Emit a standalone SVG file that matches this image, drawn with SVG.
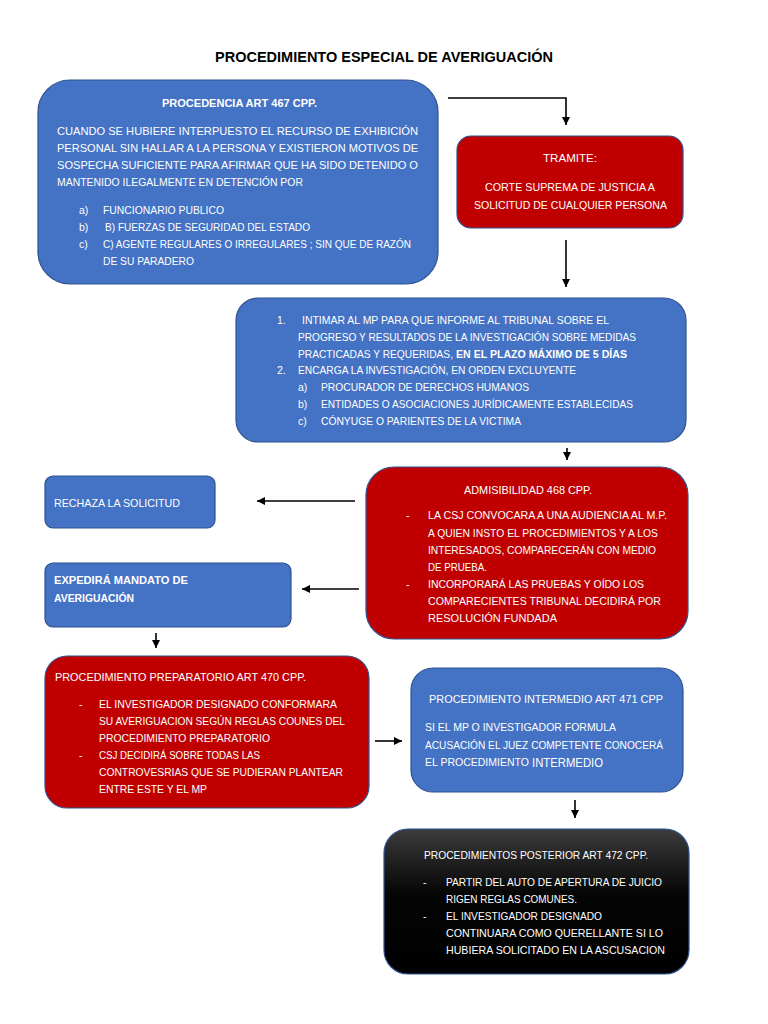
<svg xmlns="http://www.w3.org/2000/svg" width="768" height="1024" viewBox="0 0 768 1024">
<style>
.t{font-family:"Liberation Sans",Arial,sans-serif;font-size:10.5px;fill:#fff}
.b{font-weight:bold}
.blue{fill:#4472C4;stroke:#2F528F;stroke-width:1.2}
.red{fill:#C00000;stroke:#2F528F;stroke-width:1.2}
.blk{fill:url(#gblk);stroke:#2F528F;stroke-width:1.2}
.c{fill:none;stroke:#000;stroke-width:1.6;marker-end:url(#ah)}
</style>
<defs>
<marker id="ah" markerUnits="userSpaceOnUse" markerWidth="8" markerHeight="8" refX="8" refY="4" orient="auto">
<path d="M0,0 L8,4 L0,8 z" fill="#000"/>
</marker>
<linearGradient id="gblk" x1="0" y1="0" x2="0" y2="1">
<stop offset="0" stop-color="#3c3c3c"/>
<stop offset="0.45" stop-color="#050505"/>
<stop offset="1" stop-color="#000"/>
</linearGradient>
</defs>
<rect width="768" height="1024" fill="#fff"/>
<text x="215" y="62" font-family="Liberation Sans,Arial,sans-serif" font-size="14" font-weight="bold" fill="#000" textLength="338" lengthAdjust="spacingAndGlyphs">PROCEDIMIENTO ESPECIAL DE AVERIGUACIÓN</text>

<g id="connectors">
<path class="c" d="M448,98 H566 V125"/>
<path class="c" d="M566,240 V287"/>
<path class="c" d="M567,448 V460"/>
<path class="c" d="M355,501 H257"/>
<path class="c" d="M359,589 H302"/>
<path class="c" d="M156,633 V648"/>
<path class="c" d="M375,741 H402"/>
<path class="c" d="M575,800 V818"/>
</g>

<g id="procedencia">
<rect class="blue" x="38" y="80" width="400" height="204" rx="32"/>
<text class="t b" x="162" y="107" textLength="155" lengthAdjust="spacingAndGlyphs">PROCEDENCIA ART 467 CPP.</text>
<text class="t" x="57" y="135" textLength="361" lengthAdjust="spacingAndGlyphs">CUANDO SE HUBIERE INTERPUESTO EL RECURSO DE EXHIBICIÓN</text>
<text class="t" x="57" y="152" textLength="361" lengthAdjust="spacingAndGlyphs">PERSONAL SIN HALLAR A LA PERSONA Y EXISTIERON MOTIVOS DE</text>
<text class="t" x="57" y="169" textLength="361" lengthAdjust="spacingAndGlyphs">SOSPECHA SUFICIENTE PARA AFIRMAR  QUE HA SIDO  DETENIDO O</text>
<text class="t" x="57" y="186" textLength="246" lengthAdjust="spacingAndGlyphs">MANTENIDO ILEGALMENTE EN DETENCIÓN POR</text>
<text class="t" x="79" y="214">a)</text>
<text class="t" x="103" y="214" textLength="121" lengthAdjust="spacingAndGlyphs">FUNCIONARIO PUBLICO</text>
<text class="t" x="79" y="231">b)</text>
<text class="t" x="105" y="231" textLength="205" lengthAdjust="spacingAndGlyphs">B) FUERZAS DE SEGURIDAD DEL ESTADO</text>
<text class="t" x="79" y="248">c)</text>
<text class="t" x="103" y="248" textLength="308" lengthAdjust="spacingAndGlyphs">C) AGENTE REGULARES O IRREGULARES ; SIN QUE DE RAZÓN</text>
<text class="t" x="103" y="265" textLength="91" lengthAdjust="spacingAndGlyphs">DE SU PARADERO</text>
</g>

<g id="tramite">
<rect class="red" x="457" y="136" width="226" height="92" rx="14"/>
<text class="t" x="543" y="162" textLength="54" lengthAdjust="spacingAndGlyphs">TRAMITE:</text>
<text class="t" x="485" y="191" textLength="170" lengthAdjust="spacingAndGlyphs">CORTE SUPREMA DE JUSTICIA A</text>
<text class="t" x="474" y="209" textLength="193" lengthAdjust="spacingAndGlyphs">SOLICITUD DE CUALQUIER PERSONA</text>
</g>

<g id="intimar">
<rect class="blue" x="236" y="298" width="450" height="144" rx="22"/>
<text class="t" x="277" y="324">1.</text>
<text class="t" x="302" y="324" textLength="307" lengthAdjust="spacingAndGlyphs">INTIMAR AL MP PARA QUE INFORME AL TRIBUNAL SOBRE EL</text>
<text class="t" x="298" y="341" textLength="338" lengthAdjust="spacingAndGlyphs">PROGRESO Y RESULTADOS DE LA INVESTIGACIÓN SOBRE MEDIDAS</text>
<text class="t" x="298" y="358" textLength="155" lengthAdjust="spacingAndGlyphs">PRACTICADAS  Y REQUERIDAS,</text>
<text class="t b" x="456" y="358" textLength="171" lengthAdjust="spacingAndGlyphs">EN EL PLAZO MÁXIMO DE 5 DÍAS</text>
<text class="t" x="277" y="374">2.</text>
<text class="t" x="298" y="374" textLength="278" lengthAdjust="spacingAndGlyphs">ENCARGA LA INVESTIGACIÓN, EN ORDEN EXCLUYENTE</text>
<text class="t" x="298" y="391">a)</text>
<text class="t" x="321" y="391" textLength="208" lengthAdjust="spacingAndGlyphs">PROCURADOR DE DERECHOS HUMANOS</text>
<text class="t" x="298" y="408">b)</text>
<text class="t" x="321" y="408" textLength="312" lengthAdjust="spacingAndGlyphs">ENTIDADES O ASOCIACIONES JURÍDICAMENTE ESTABLECIDAS</text>
<text class="t" x="298" y="425">c)</text>
<text class="t" x="321" y="425" textLength="200" lengthAdjust="spacingAndGlyphs">CÓNYUGE O PARIENTES DE LA VICTIMA</text>
</g>

<g id="admisibilidad">
<rect class="red" x="366" y="467" width="322" height="172" rx="28"/>
<text class="t" x="464" y="494" textLength="128" lengthAdjust="spacingAndGlyphs">ADMISIBILIDAD 468 CPP.</text>
<text class="t" x="406" y="519">-</text>
<text class="t" x="428" y="519" textLength="239" lengthAdjust="spacingAndGlyphs">LA CSJ CONVOCARA A UNA AUDIENCIA AL M.P.</text>
<text class="t" x="428" y="537" textLength="230" lengthAdjust="spacingAndGlyphs">A QUIEN INSTO EL PROCEDIMIENTOS Y A LOS</text>
<text class="t" x="428" y="554" textLength="228" lengthAdjust="spacingAndGlyphs">INTERESADOS, COMPARECERÁN CON MEDIO</text>
<text class="t" x="428" y="571" textLength="59" lengthAdjust="spacingAndGlyphs">DE PRUEBA.</text>
<text class="t" x="406" y="588">-</text>
<text class="t" x="428" y="588" textLength="216" lengthAdjust="spacingAndGlyphs">INCORPORARÁ LAS PRUEBAS Y OÍDO LOS</text>
<text class="t" x="428" y="605" textLength="233" lengthAdjust="spacingAndGlyphs">COMPARECIENTES TRIBUNAL DECIDIRÁ POR</text>
<text class="t" x="428" y="622" textLength="129" lengthAdjust="spacingAndGlyphs">RESOLUCIÓN FUNDADA</text>
</g>

<g id="rechaza">
<rect class="blue" x="45" y="476" width="170" height="52" rx="8"/>
<text class="t" x="54" y="507" textLength="126" lengthAdjust="spacingAndGlyphs">RECHAZA LA SOLICITUD</text>
</g>

<g id="expedira">
<rect class="blue" x="45" y="563" width="246" height="64" rx="8"/>
<text class="t b" x="54" y="584" textLength="134" lengthAdjust="spacingAndGlyphs">EXPEDIRÁ MANDATO DE</text>
<text class="t b" x="54" y="602" textLength="80" lengthAdjust="spacingAndGlyphs">AVERIGUACIÓN</text>
</g>

<g id="preparatorio">
<rect class="red" x="45" y="656" width="324" height="152" rx="22"/>
<text class="t" x="55" y="681" textLength="251" lengthAdjust="spacingAndGlyphs">PROCEDIMIENTO PREPARATORIO ART 470 CPP.</text>
<text class="t" x="79" y="708">-</text>
<text class="t" x="99" y="708" textLength="238" lengthAdjust="spacingAndGlyphs">EL INVESTIGADOR DESIGNADO CONFORMARA</text>
<text class="t" x="99" y="725" textLength="246" lengthAdjust="spacingAndGlyphs">SU AVERIGUACION SEGÚN REGLAS COUNES DEL</text>
<text class="t" x="99" y="742" textLength="171" lengthAdjust="spacingAndGlyphs">PROCEDIMIENTO PREPARATORIO</text>
<text class="t" x="79" y="759">-</text>
<text class="t" x="99" y="759" textLength="161" lengthAdjust="spacingAndGlyphs">CSJ DECIDIRÁ SOBRE TODAS LAS</text>
<text class="t" x="99" y="776" textLength="244" lengthAdjust="spacingAndGlyphs">CONTROVESRIAS QUE SE PUDIERAN PLANTEAR</text>
<text class="t" x="99" y="793" textLength="108" lengthAdjust="spacingAndGlyphs">ENTRE ESTE Y EL MP</text>
</g>

<g id="intermedio">
<rect class="blue" x="411" y="668" width="272" height="124" rx="22"/>
<text class="t" x="429" y="703" textLength="234" lengthAdjust="spacingAndGlyphs">PROCEDIMIENTO INTERMEDIO ART 471 CPP</text>
<text class="t" x="425" y="731" textLength="191" lengthAdjust="spacingAndGlyphs">SI EL MP O INVESTIGADOR FORMULA</text>
<text class="t" x="425" y="749" textLength="238" lengthAdjust="spacingAndGlyphs">ACUSACIÓN EL JUEZ COMPETENTE CONOCERÁ</text>
<text class="t" x="425" y="766" textLength="104" lengthAdjust="spacingAndGlyphs">EL PROCEDIMIENTO</text>
<text class="t" x="532" y="767" style="font-size:12.5px" textLength="71" lengthAdjust="spacingAndGlyphs">INTERMEDIO</text>
</g>

<g id="posterior">
<rect class="blk" x="384" y="829" width="305" height="145" rx="24"/>
<text class="t" x="424" y="859" textLength="224" lengthAdjust="spacingAndGlyphs">PROCEDIMIENTOS POSTERIOR ART 472 CPP.</text>
<text class="t" x="423" y="886">-</text>
<text class="t" x="446" y="886" textLength="216" lengthAdjust="spacingAndGlyphs">PARTIR DEL AUTO DE APERTURA DE JUICIO</text>
<text class="t" x="446" y="903" textLength="131" lengthAdjust="spacingAndGlyphs">RIGEN REGLAS COMUNES.</text>
<text class="t" x="423" y="920">-</text>
<text class="t" x="446" y="920" textLength="156" lengthAdjust="spacingAndGlyphs">EL INVESTIGADOR DESIGNADO</text>
<text class="t" x="446" y="937" textLength="217" lengthAdjust="spacingAndGlyphs">CONTINUARA COMO QUERELLANTE SI LO</text>
<text class="t" x="446" y="954" textLength="219" lengthAdjust="spacingAndGlyphs">HUBIERA SOLICITADO EN LA ASCUSACION</text>
</g>
</svg>
